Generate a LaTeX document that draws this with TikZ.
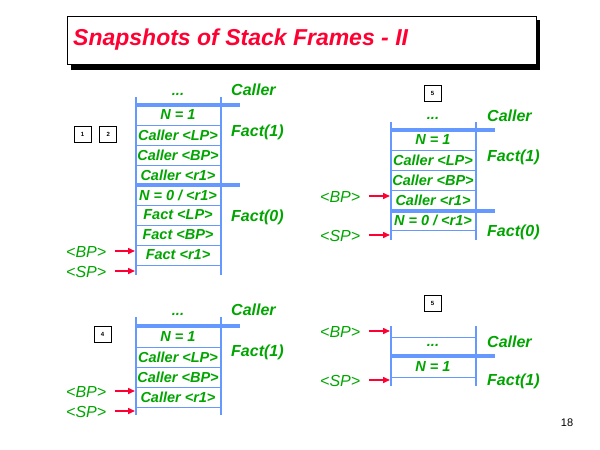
\documentclass[tikz,border=0pt]{standalone}
\usepackage{fontspec}
\setmainfont{Liberation Sans}
\usetikzlibrary{arrows.meta,positioning}
\definecolor{stackblue}{RGB}{102,153,255}
\definecolor{labelgreen}{RGB}{0,165,0}
\definecolor{titlered}{RGB}{255,0,51}
\tikzset{
  cell/.style={font=\fontsize{14.5}{14.5}\selectfont\bfseries\itshape, text=labelgreen, inner sep=0pt},
  frame label/.style={anchor=west, font=\fontsize{16}{16}\selectfont\bfseries\itshape, text=labelgreen, inner sep=0pt},
  reg label/.style={anchor=west, font=\fontsize{16}{16}\selectfont\itshape, text=labelgreen, inner sep=0pt},
  reg arrow/.style={-{Triangle[length=7pt,width=6pt]}, titlered, line width=1.5pt, shorten <=9pt},
  snap/.style={draw, line width=0.8pt, font=\fontsize{6}{6}\selectfont\bfseries, minimum width=17pt, minimum height=16pt, inner sep=0pt},
  wall/.style={stackblue, line width=2pt},
  slot/.style={stackblue, line width=0.8pt},
  frametop/.style={stackblue, line width=4pt}}

\begin{document}
\begin{tikzpicture}[x=1pt, y=-1pt]
  \useasboundingbox (0,0) rectangle (600,450);
  % title
  \fill[black] (71,20) rectangle (540,70);
  \node[draw, fill=white, line width=1pt, minimum width=469pt, minimum height=48pt, anchor=north west] (title box) at (67,16) {};
  \node[anchor=west, inner sep=0pt, text=titlered, font=\fontsize{23}{23}\selectfont\bfseries\itshape] (title) at (73,40) {Snapshots of Stack Frames - II};

  % snapshots 1 and 2
  \node[snap] (snap1) at (82.5,134) {1};
  \node[snap] (snap2) [right=8pt of snap1] {2};
  \begin{scope}[shift={(136,105)}]
    \draw[wall] (0,-8) -- (0,170);
    \draw[wall] (85,-8) -- (85,170);
    \draw[frametop] (0,0) -- (104,0);
    \draw[frametop] (0,80) -- (104,80);
    \foreach \y in {20,40,60,100,120,140,160}
      \draw[slot] (0,\y) -- (85,\y);
    \node[cell] (a0) at (42,-11) {...};
    \foreach \t [count=\i] in {{N = 1}, {Caller <LP>}, {Caller <BP>}, {Caller <r1>},
        {N = 0 / <r1>}, {Fact <LP>}, {Fact <BP>}, {Fact <r1>}}
      \node[cell] (a\i) at (42,\i*20-10) {\t};
    \node[frame label] (a caller) at (95,-15) {Caller};
    \node[frame label] (a fact1) at (95,27) {Fact(1)};
    \node[frame label] (a fact0) at (95,112) {Fact(0)};
    \node[reg label] (a bp) at (-70,147) {<BP>};
    \node[reg label] (a sp) at (-70,167) {<SP>};
    \coordinate (a bp tip) at (-1,146);
    \coordinate (a sp tip) at (-1,166);
    \draw[reg arrow] (a bp.east |- a bp tip) -- (a bp tip);
    \draw[reg arrow] (a sp.east |- a sp tip) -- (a sp tip);
  \end{scope}

  % snapshot 3
  \node[snap] (snap3) at (432.5,93) {5};
  \begin{scope}[shift={(391,130)}]
    \draw[wall] (0,-8) -- (0,110);
    \draw[wall] (85,-8) -- (85,110);
    \draw[frametop] (0,0) -- (104,0);
    \draw[frametop] (0,81) -- (104,81);
    \foreach \y in {20,40,60,100}
      \draw[slot] (0,\y) -- (85,\y);
    \node[cell] (b0) at (42,-12) {...};
    \foreach \t [count=\i] in {{N = 1}, {Caller <LP>}, {Caller <BP>}, {Caller <r1>},
        {N = 0 / <r1>}}
      \node[cell] (b\i) at (42,\i*20-10) {\t};
    \node[frame label] (b caller) at (96,-14) {Caller};
    \node[frame label] (b fact1) at (96,27) {Fact(1)};
    \node[frame label] (b fact0) at (96,102) {Fact(0)};
    \node[reg label] (b bp) at (-71,67) {<BP>};
    \node[reg label] (b sp) at (-71,106) {<SP>};
    \coordinate (b bp tip) at (-1,66);
    \coordinate (b sp tip) at (-1,105);
    \draw[reg arrow] (b bp.east |- b bp tip) -- (b bp tip);
    \draw[reg arrow] (b sp.east |- b sp tip) -- (b sp tip);
  \end{scope}

  % snapshot 4
  \node[snap] (snap4) at (102.5,334) {4};
  \begin{scope}[shift={(136,326)}]
    \draw[wall] (0,-9) -- (0,89);
    \draw[wall] (85,-9) -- (85,89);
    \draw[frametop] (0,0) -- (104,0);
    \foreach \y in {21,41,61,81}
      \draw[slot] (0,\y) -- (85,\y);
    \node[cell] (c0) at (42,-12) {...};
    \foreach \t [count=\i] in {{N = 1}, {Caller <LP>}, {Caller <BP>}, {Caller <r1>}}
      \node[cell] (c\i) at (42,\i*20-9) {\t};
    \node[frame label] (c caller) at (95,-16) {Caller};
    \node[frame label] (c fact1) at (95,26) {Fact(1)};
    \node[reg label] (c bp) at (-70,66) {<BP>};
    \node[reg label] (c sp) at (-70,86) {<SP>};
    \coordinate (c bp tip) at (-1,65);
    \coordinate (c sp tip) at (-1,85);
    \draw[reg arrow] (c bp.east |- c bp tip) -- (c bp tip);
    \draw[reg arrow] (c sp.east |- c sp tip) -- (c sp tip);
  \end{scope}

  % snapshot 5
  \node[snap] (snap5) at (432.5,303) {5};
  \begin{scope}[shift={(391,356)}]
    \draw[wall] (0,-30) -- (0,30);
    \draw[wall] (85,-30) -- (85,30);
    \draw[frametop] (0,0) -- (104,0);
    \foreach \y in {-19,21}
      \draw[slot] (0,\y) -- (85,\y);
    \node[cell] (d0) at (42,-11) {...};
    \node[cell] (d1) at (42,11) {N = 1};
    \node[frame label] (d caller) at (96,-14) {Caller};
    \node[frame label] (d fact1) at (96,25) {Fact(1)};
    \node[reg label] (d bp) at (-71,-24) {<BP>};
    \node[reg label] (d sp) at (-71,25) {<SP>};
    \coordinate (d bp tip) at (-1,-25);
    \coordinate (d sp tip) at (-1,24);
    \draw[reg arrow] (d bp.east |- d bp tip) -- (d bp tip);
    \draw[reg arrow] (d sp.east |- d sp tip) -- (d sp tip);
  \end{scope}

  \node[font=\fontsize{11}{11}\selectfont] (page) at (567,423) {18};
\end{tikzpicture}
\end{document}
